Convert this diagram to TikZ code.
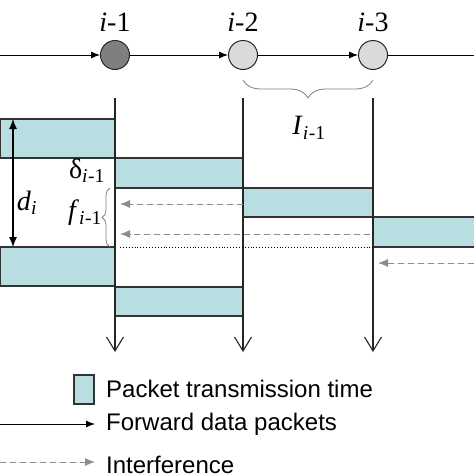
\documentclass[tikz,border=0pt]{standalone}
\usepackage{fontspec}
\setmainfont{Liberation Serif}
\newfontfamily\legendfont{Liberation Sans}
\usetikzlibrary{arrows.meta,positioning,decorations.pathreplacing}
\definecolor{pktblue}{HTML}{B9DEE2}
\definecolor{hopdark}{HTML}{7F7F7F}
\definecolor{hoplight}{HTML}{DADADA}
\definecolor{intgray}{HTML}{8C8C8C}
\newcommand{\lbl}{\fontsize{28}{32}\selectfont}
\newcommand{\sbs}[1]{\textsubscript{\itshape #1}}
\tikzset{
  hop/.style={circle, draw=black!85, line width=1pt, minimum size=29pt, inner sep=0pt},
  pkt/.style={fill=pktblue, draw=black!80, line width=1.2pt},
  fwd/.style={-{Latex[length=9pt,width=7pt]}, line width=0.9pt},
  intf/.style={-{Latex[length=10pt,width=8pt]}, dash pattern=on 6pt off 4pt, draw=intgray, fill=intgray, line width=1pt},
  slot/.style={-{Straight Barb[length=14pt,width=17pt]}, line width=1.1pt, draw=black!85},
  gbrace/.style={decorate, draw=gray, line width=0.8pt},
  legtext/.style={anchor=west, inner sep=0pt, font=\legendfont\fontsize{24}{28}\selectfont},
}
\begin{document}
\begin{tikzpicture}[x=1pt,y=-1pt]
\useasboundingbox (0,0) rectangle (474,474);
% hops
\node[hop, fill=hopdark] (h1) at (115,55) {};
\node[hop, fill=hoplight] (h2) at (243,55) {};
\node[hop, fill=hoplight] (h3) at (373,55) {};
\node[above=5pt of h1, font=\lbl] (l1) {\textit{i}-1};
\node[above=5pt of h2, font=\lbl] (l2) {\textit{i}-2};
\node[above=5pt of h3, font=\lbl] (l3) {\textit{i}-3};
\coordinate (lft) at (0,55);
\coordinate (rgt) at (474,55);
% forward links
\draw[fwd] (lft) -- (h1);
\draw[fwd] (h1) -- (h2);
\draw[fwd] (h2) -- (h3);
\draw[line width=0.9pt] (h3) -- (rgt);
% interval brace
\draw[gbrace, decoration={brace, mirror, amplitude=18pt}] (243,80) -- (373,80);
\node[font=\lbl] (ival) at (309,128) {\textit{I}\sbs{i}\textsubscript{-1}};
% packet bars
\draw[pkt] (0,119) rectangle (115,158);
\draw[pkt] (0,247) rectangle (115,286);
\draw[pkt] (115,158) rectangle (243,188);
\draw[pkt] (115,287) rectangle (243,316);
\draw[pkt] (243,188) rectangle (373,217);
\draw[pkt] (373,217) rectangle (480,247);
% time lines
\foreach \x in {115,243,373}
  \draw[slot] (\x,98) -- (\x,352);
% delay
\draw[{Latex[length=10pt,width=8pt]}-{Latex[length=10pt,width=8pt]}, line width=1.1pt] (13,119) -- (13,247);
\node[font=\lbl] (dl) at (27,203) {\textit{d}\sbs{i}};
\node[font=\lbl] (dt) at (87,171) {δ\sbs{i}\textsubscript{-1}};
\node[font=\lbl] (fl) at (85,213) {\textit{f}\sbs{i}\textsubscript{-1}};
\draw[gbrace, decoration={brace, amplitude=8pt}] (110,247) -- (110,188);
% interference
\draw[intf] (243,204) -- (120,204);
\draw[intf] (370,234) -- (120,234);
\draw[intf] (474,263) -- (378,263);
\draw[dotted, line width=0.9pt] (120,247) -- (373,247);
% legend
\node[pkt, draw=black!80, minimum width=20pt, minimum height=29pt, inner sep=0pt] (lgbox) at (84,389.5) {};
\node[legtext] (lg1) at (106,389) {Packet transmission time};
\coordinate (lf0) at (0,424);
\coordinate (lf1) at (95,424);
\draw[fwd] (lf0) -- (lf1);
\node[legtext] (lg2) at (106,424) {Forward data packets};
\coordinate (li0) at (0,462);
\coordinate (li1) at (95,462);
\draw[intf] (li0) -- (li1);
\node[legtext] (lg3) at (106,465) {Interference};
\end{tikzpicture}
\end{document}
